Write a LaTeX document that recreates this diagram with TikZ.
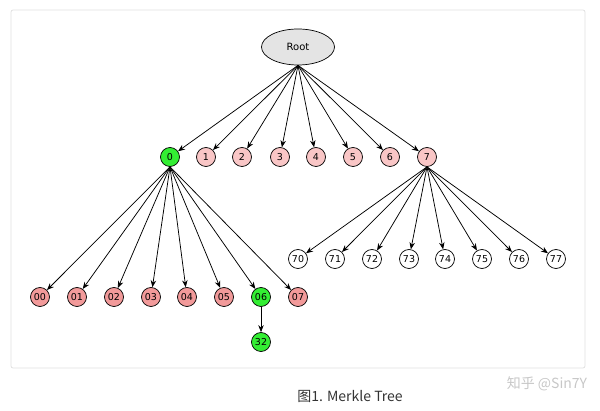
\documentclass[tikz,border=0pt]{standalone}
\usepackage{fontspec}
\setmainfont{DejaVu Sans}
\newfontfamily\cjk{Noto Sans CJK SC}
\usetikzlibrary{arrows.meta,shapes.geometric}
\definecolor{pinkA}{HTML}{F9C6C6}
\definecolor{pinkB}{HTML}{F29A9A}
\definecolor{greenA}{HTML}{33EE33}
\definecolor{rootgray}{HTML}{E4E4E4}
\begin{document}
\begin{tikzpicture}[x=1pt,y=-1pt,
  leaf/.style={circle,draw=black,line width=0.7pt,minimum size=19pt,inner sep=0pt,font=\fontsize{9.5}{9.5}\selectfont},
  lvA/.style={leaf,fill=pinkA},
  lvB/.style={leaf,fill=pinkB},
  grn/.style={leaf,fill=greenA},
  wht/.style={leaf,fill=white},
  edge/.style={-{Stealth[length=7pt,width=5.5pt]},line width=0.75pt}]
\useasboundingbox (0,0) rectangle (600,411);
\draw[rounded corners=2pt,draw=black!12,line width=0.8pt] (11,10) rectangle (585,368);
\node[ellipse,draw=black,line width=0.7pt,fill=rootgray,minimum width=73pt,minimum height=36pt,inner sep=0pt,font=\fontsize{10}{10}\selectfont] (root) at (298,47) {Root};
% level 1
\node[grn] (n0) at (170,157) {0};
\node[lvA] (n1) at (206,157) {1};
\node[lvA] (n2) at (242,157) {2};
\node[lvA] (n3) at (280,157) {3};
\node[lvA] (n4) at (316,157) {4};
\node[lvA] (n5) at (353,157) {5};
\node[lvA] (n6) at (390,157) {6};
\node[lvA] (n7) at (427,157) {7};
% level 2 under 0
\node[lvB] (n00) at (40,297) {00};
\node[lvB] (n01) at (77,297) {01};
\node[lvB] (n02) at (114,297) {02};
\node[lvB] (n03) at (151,297) {03};
\node[lvB] (n04) at (187,297) {04};
\node[lvB] (n05) at (224,297) {05};
\node[grn] (n06) at (261,297) {06};
\node[lvB] (n07) at (298,297) {07};
\node[grn] (n32) at (261,342) {32};
% level 2 under 7
\node[wht] (n70) at (298,259) {70};
\node[wht] (n71) at (335,259) {71};
\node[wht] (n72) at (372,259) {72};
\node[wht] (n73) at (409,259) {73};
\node[wht] (n74) at (445,259) {74};
\node[wht] (n75) at (482,259) {75};
\node[wht] (n76) at (519,259) {76};
\node[wht] (n77) at (556,259) {77};
% edges
\foreach \c in {0,...,7} \draw[edge] (root.south) -- (n\c);
\foreach \c in {00,01,02,03,04,05,06,07} \draw[edge] (n0.south) -- (n\c);
\foreach \c in {70,71,72,73,74,75,76,77} \draw[edge] (n7.south) -- (n\c);
\draw[edge] (n06) -- (n32);
% caption
\node[font=\cjk\fontsize{14}{14}\selectfont,text=black!80] (cap) at (350,396) {图1. Merkle Tree};
\node[font=\cjk\fontsize{14}{14}\selectfont,text=black!22] (wm) at (547,384) {知乎 @Sin7Y};
\end{tikzpicture}
\end{document}
